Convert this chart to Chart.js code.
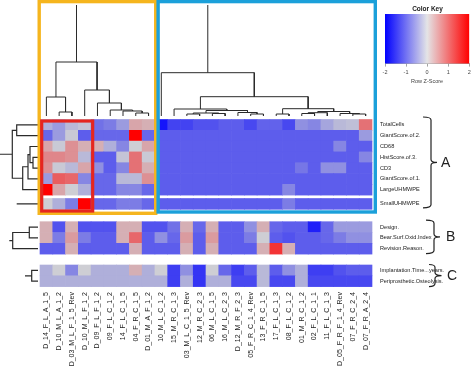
<!DOCTYPE html>
<html>
<head>
<meta charset="utf-8">
<script src="https://cdn.jsdelivr.net/npm/chart.js@4.4.1/dist/chart.umd.min.js"></script>
<style>
  html, body { margin: 0; padding: 0; background: #fff; }
  #wrap { position: relative; width: 474px; height: 373px; overflow: hidden; }
  #heat { position: absolute; left: 0; top: 0; }
  #key { position: absolute; left: 376px; top: 0; }
</style>
</head>
<body>
<div id="wrap">
  <canvas id="heat" width="474" height="373"></canvas>
  <canvas id="key" width="98" height="84"></canvas>
</div>
<script>
// Column (sample) labels, left to right
const colLabels = [
  'D_14_F_L_A_1_5', 'D_10_M_L_A_1_2', 'D_03_M_L_F_1_5_Rev', 'D_10_M_L_F_1_2', 'D_09_F_L_F_1_2',
  '09_F_L_C_1_2', '14_F_L_C_1_5', '04_F_R_C_1_5', 'D_01_M_A_F_1_2', '10_M_L_C_1_2',
  '15_M_R_C_1_3', '03_M_L_C_1_5_Rev', '12_M_R_C_2_3', '06_M_L_C_1_5', '16_M_L_C_2_3',
  'D_12_M_R_F_2_3', '05_F_R_C_1_4_Rev', '13_F_R_C_1_5', '17_F_L_C_1_3', '08_F_L_C_1_2',
  '01_M_R_C_1_2', '02_F_L_C_1_1', '11_F_L_C_1_3', 'D_05_F_R_F_1_4_Rev', '07_F_R_C_2_4',
  'D_07_F_R_A_2_4'
];

const rowLabelsA = ['TotalCells', 'GiantScore.of.2.', 'CD68', 'HistScore.of.3.', 'CD3',
  'GiantScore.of.1.', 'LargeUHMWPE', 'SmallUHMWPE'];
const rowLabelsB = ['Design.', 'Bear.Surf.Oxid.Index', 'Revision.Reason.'];
const rowLabelsC = ['Implantation.Time...years.', 'Periprosthetic.Osteolysis.'];

// Row z-scores (first 9 columns | last 17 columns)
const zA = [
  [-0.3, -0.5, -0.2, -0.1, -0.9, -0.8, -0.5, 0.4, 0.3,
   -1.8, -1.35, -1.35, -1.2, -1.2, -1.1, -1.1, -1.3, -1.05, -1.05, -1.3, -0.6, -0.7, -0.4, -0.2, -0.15, 0.9],
  [-1.0, -0.5, -0.05, -1.1, -1.0, -1.0, -1.0, 2.0, -1.0,
   -1.1, -1.1, -1.1, -1.1, -1.1, -1.1, -1.1, -1.1, -1.1, -1.1, -1.1, -1.1, -1.1, -1.1, -1.1, -1.1, -0.5],
  [0.4, -0.05, 0.6, 0.3, 0.3, -0.3, -0.7, 0.0, 0.4,
   -1.1, -1.1, -1.1, -1.1, -1.1, -1.1, -1.1, -1.1, -1.1, -1.1, -1.1, -1.1, -1.1, -1.1, -0.7, -1.1, -1.1],
  [0.7, 0.7, 0.6, -0.2, -1.1, -1.1, -0.1, 0.9, -0.05,
   -1.1, -1.1, -1.1, -1.1, -1.1, -1.1, -1.1, -1.1, -1.1, -1.1, -1.1, -1.1, -1.1, -1.1, -1.1, -1.1, -0.7],
  [0.6, -0.05, -0.2, 0.4, -0.6, -1.1, -0.7, 0.9, 0.3,
   -1.1, -1.1, -1.1, -1.1, -1.1, -1.1, -1.1, -1.1, -1.1, -1.1, -1.1, -0.85, -1.1, -0.6, -0.6, -1.1, -1.1],
  [-0.5, 1.1, 1.0, -0.7, -1.0, -1.0, -0.2, -0.2, 0.6,
   -1.1, -1.1, -1.1, -1.1, -1.1, -1.1, -1.1, -1.1, -1.1, -1.1, -1.1, -1.1, -1.1, -1.1, -1.1, -1.1, -1.1],
  [2.0, 0.4, 0.0, -0.3, -1.0, -1.0, -0.7, -0.7, -1.0,
   -1.1, -1.1, -1.1, -1.1, -1.1, -1.1, -1.1, -1.1, -1.1, -1.1, -0.7, -1.1, -1.1, -1.1, -1.1, -1.1, -1.1],
  [0.0, -0.3, -0.8, 2.0, -1.0, -1.0, -0.8, -0.8, -1.0,
   -1.1, -1.1, -1.1, -1.1, -1.1, -1.1, -1.1, -1.1, -1.1, -1.1, -0.8, -1.1, -1.1, -1.1, -1.1, -1.1, -1.1]
];
const zB = [
  [0.3, -1.2, 0.3, -1.2, -1.2, -1.2, 0.3, 0.3, -1.2,
   -1.2, -0.9, 0.3, -1.0, 0.3, -1.1, -1.1, -0.6, 0.3, -1.0, -1.1, -1.1, -1.7, -1.0, -0.5, -0.5, -0.5],
  [0.3, -0.8, 0.5, -0.8, -1.1, -1.1, 0.3, 1.0, -1.1,
   -0.6, -1.0, 0.5, -1.1, 0.5, -1.1, -1.1, -0.8, 0.0, -1.1, -1.2, -1.1, -1.1, -1.0, -0.8, -0.6, -0.6],
  [-1.1, -1.1, 0.3, -1.1, -1.1, -1.1, -1.1, 0.3, -1.1,
   -1.1, -1.1, 0.3, -1.1, 0.3, -1.1, -1.1, -1.1, 0.3, 1.5, 0.3, -1.1, -1.1, -1.1, -1.1, -1.1, -1.1]
];
const zC = [
  [-0.3, 0.0, -0.7, 0.0, -0.3, -0.3, -0.3, 0.3, -0.3,
   0.0, -1.4, -0.6, -1.5, 0.0, -1.0, -1.4, -1.1, -0.2, -1.1, -0.6, -0.3, -1.4, -1.4, -1.2, -1.1, -1.1],
  [-0.3, -0.3, -0.3, -0.3, -0.3, -0.3, -0.3, -0.3, -0.3,
   -0.3, -1.4, -0.3, -1.5, -0.3, -0.3, -1.3, -1.3, -0.2, -1.3, -1.3, -0.3, -1.3, -1.3, -1.3, -1.3, -1.3]
];

// Dendrograms, hclust style: [left, right, height]; negative = leaf number
const colMerge = [
  [-2, -3, 4], [-1, 1, 19], [-8, -9, 3], [-7, 3, 5], [-6, 4, 6], [-5, 5, 13], [-4, 6, 26], [2, 7, 54],
  [-12, -13, 2], [-14, -15, 2.5], [9, 10, 3], [-17, -18, 2], [-16, 12, 3.5], [11, 13, 5.5], [-11, 14, 7],
  [-19, -20, 2], [-21, -22, 2.5], [17, -23, 3.3], [-25, -26, 2], [-24, 19, 2.5], [18, 20, 4.5],
  [16, 21, 7.3], [15, 22, 19.3], [-10, 23, 43.3]
];
const colStubs = [[8, 111], [24, 111]];
const rowMergeA = [[-1, -2, 21.3], [-4, -5, 5], [-3, 2, 8], [3, -6, 10], [4, -7, 15.3], [1, 5, 25.7]];
const rowStubsA = [[6, 38], [-8, 21.3]];
const rowMergeB = [[-1, -2, 8.7], [1, -3, 25.3]];
const rowStubsB = [[2, 28.7]];
const rowMergeC = [[-1, -2, 6.3]];
const rowStubsC = [[1, 13]];

const keyTicks = [-2, -1, 0, 1, 2];

// ---- layout (canvas pixel units on both scales) ----
const FONT = '"Liberation Sans", Arial, sans-serif';
const X0 = 40, COLW = 332 / colLabels.length;
const colX = i => X0 + (i + 0.5) * COLW;
const blocks = [
  { labels: rowLabelsA, z: zA, top: 119.5, h: 10.8, gapAt: 7, gap: 3.4 },
  { labels: rowLabelsB, z: zB, top: 221.7, h: 10.8 },
  { labels: rowLabelsC, z: zC, top: 265, h: 10.8 }
];
function rowSpan(b, r) {
  let t = b.top + r * b.h;
  if (b.gapAt !== undefined && r >= b.gapAt) t += b.gap;
  return [t, t + b.h];
}
const rowMid = (b, r) => { const s = rowSpan(b, r); return (s[0] + s[1]) / 2; };

const LOW = [0, 0, 255], MID = [206, 206, 212], HIGH = [255, 0, 0];
function zColor(v) {
  const t = Math.max(-1, Math.min(1, v / 2));
  const to = t < 0 ? LOW : HIGH, f = Math.abs(t);
  return 'rgb(' + MID.map((c, i) => Math.round(c + (to[i] - c) * f)).join(',') + ')';
}

// heatmap cells as floating bars
const cellData = [], cellColors = [];
blocks.forEach(b => b.z.forEach((row, r) => {
  const [t, bt] = rowSpan(b, r);
  row.forEach((v, c) => {
    cellData.push({ x: colX(c), y: [t, bt] });
    cellColors.push(zColor(v));
  });
}));

// dendrogram polylines
function dendro(merge, stubs, leafPos, base, vertical) {
  const pos = [], ht = [];
  const P = k => k < 0 ? leafPos(-k - 1) : pos[k - 1];
  const H = k => k < 0 ? 0 : ht[k - 1];
  merge.forEach(([a, b, h], i) => { pos[i] = (P(a) + P(b)) / 2; ht[i] = h; });
  const pt = (p, h) => vertical ? { x: p, y: base - h } : { x: base - h, y: p };
  const gap = { x: null, y: null };
  const pts = [];
  merge.forEach(([a, b, h]) => {
    pts.push(pt(P(a), H(a)), pt(P(a), h), pt(P(b), h), pt(P(b), H(b)), gap);
  });
  stubs.forEach(([k, h]) => pts.push(pt(P(k), H(k)), pt(P(k), h), gap));
  return pts;
}
const lineSet = (data, w) => ({
  type: 'line', data, borderColor: '#2b2b2b', borderWidth: w,
  pointRadius: 0, tension: 0, spanGaps: false, fill: false
});

const boxes = [
  { c0: 0, c1: 9, dx0: -0.8, dx1: 0.8, y0: 1.6, y1: 213.3, color: '#F5B51E', w: 3.4 },
  { c0: 9, c1: 26, dx0: 3.2, dx1: 3.3, y0: 1.6, y1: 212, color: '#1BA0DA', w: 3.4 },
  { c0: 0, c1: 4, dx0: 1.7, dx1: 1.6, y0: 121, y1: 211, color: '#E5261F', w: 3.2 }
];
const braces = [
  { text: 'A', block: 0, xl: 423, xv: 431, xt: 437, lx: 441, dt: -2.5, db: -1.5 },
  { text: 'B', block: 1, xl: 426, xv: 434, xt: 440, lx: 446, dt: -1.5, db: -0.5 },
  { text: 'C', block: 2, xl: 429, xv: 435, xt: 441.5, lx: 447, dt: -0.5, db: 0 }
];

function drawBrace(ctx, xl, xv, xt, t, b) {
  const m = (t + b) / 2, r = 3;
  ctx.beginPath();
  ctx.moveTo(xl, t);
  ctx.quadraticCurveTo(xv, t, xv, t + r);
  ctx.lineTo(xv, m - r);
  ctx.quadraticCurveTo(xv, m, xt, m);
  ctx.quadraticCurveTo(xv, m, xv, m + r);
  ctx.lineTo(xv, b - r);
  ctx.quadraticCurveTo(xv, b, xl, b);
  ctx.stroke();
}

const overlay = {
  id: 'overlay',
  afterDatasetsDraw(chart) {
    const { ctx, scales: { x, y } } = chart;
    ctx.save();
    boxes.forEach(b => {
      const l = x.getPixelForValue(X0 + b.c0 * COLW + b.dx0);
      const r = x.getPixelForValue(X0 + b.c1 * COLW + b.dx1);
      const t = y.getPixelForValue(b.y0), bt = y.getPixelForValue(b.y1);
      ctx.strokeStyle = b.color;
      ctx.lineWidth = b.w;
      ctx.strokeRect(l, t, r - l, bt - t);
    });

    // row labels
    ctx.fillStyle = '#222';
    ctx.font = '5.6px ' + FONT;
    ctx.textAlign = 'left';
    ctx.textBaseline = 'middle';
    blocks.forEach(b => b.labels.forEach((lab, r) => {
      ctx.fillText(lab, x.getPixelForValue(380), y.getPixelForValue(rowMid(b, r)));
    }));

    // column labels
    ctx.font = '7px ' + FONT;
    ctx.textAlign = 'right';
    colLabels.forEach((lab, i) => {
      ctx.save();
      ctx.translate(x.getPixelForValue(colX(i)), y.getPixelForValue(292));
      ctx.rotate(-Math.PI / 2);
      ctx.fillText(lab, 0, 0);
      ctx.restore();
    });

    // group braces
    ctx.strokeStyle = '#222';
    ctx.lineWidth = 1.2;
    ctx.font = '14px ' + FONT;
    ctx.textAlign = 'left';
    braces.forEach(br => {
      const b = blocks[br.block];
      const t = rowSpan(b, 0)[0] + br.dt, bt = rowSpan(b, b.z.length - 1)[1] + br.db;
      drawBrace(ctx, x.getPixelForValue(br.xl), x.getPixelForValue(br.xv), x.getPixelForValue(br.xt),
        y.getPixelForValue(t), y.getPixelForValue(bt));
      ctx.fillText(br.text, x.getPixelForValue(br.lx), y.getPixelForValue((t + bt) / 2 + 0.5));
    });
    ctx.restore();
  }
};

Chart.defaults.font.family = FONT;
Chart.defaults.color = '#333';

new Chart(document.getElementById('heat'), {
  type: 'bar',
  data: {
    datasets: [
      { data: cellData, backgroundColor: cellColors, borderWidth: 0, barPercentage: 1, categoryPercentage: 1 },
      lineSet(dendro(colMerge, colStubs, colX, 116, true), 1),
      lineSet(dendro(rowMergeA, rowStubsA, r => rowMid(blocks[0], r), 38, false), 1.2),
      lineSet(dendro(rowMergeB, rowStubsB, r => rowMid(blocks[1], r), 38, false), 1.2),
      lineSet(dendro(rowMergeC, rowStubsC, r => rowMid(blocks[2], r), 38, false), 1.2)
    ]
  },
  options: {
    responsive: false,
    animation: false,
    events: [],
    layout: { padding: 0 },
    plugins: { legend: { display: false }, tooltip: { enabled: false } },
    scales: {
      x: { type: 'linear', min: 0, max: 474, offset: false, display: false, ticks: { stepSize: 50 } },
      y: { type: 'linear', min: 0, max: 373, reverse: true, display: false }
    }
  },
  plugins: [overlay]
});

// Color key
new Chart(document.getElementById('key'), {
  type: 'bar',
  data: {
    labels: [''],
    datasets: [{
      data: [[keyTicks[0], keyTicks[keyTicks.length - 1]]],
      backgroundColor: (c) => {
        const area = c.chart.chartArea;
        if (!area) return zColor(0);
        const g = c.chart.ctx.createLinearGradient(area.left, 0, area.right, 0);
        g.addColorStop(0, zColor(keyTicks[0]));
        g.addColorStop(0.5, 'rgb(228,228,230)');
        g.addColorStop(1, zColor(keyTicks[keyTicks.length - 1]));
        return g;
      },
      borderWidth: 0, barPercentage: 1, categoryPercentage: 1
    }]
  },
  options: {
    indexAxis: 'y',
    responsive: false,
    animation: false,
    events: [],
    layout: { padding: { left: 9, right: 4, top: 0, bottom: 0 } },
    plugins: {
      legend: { display: false },
      tooltip: { enabled: false },
      title: { display: true, text: 'Color Key', color: '#222',
        font: { size: 6.5, weight: 'bold', lineHeight: 1.2 }, padding: { top: 5.8, bottom: 0.4 } }
    },
    scales: {
      x: {
        type: 'linear', min: keyTicks[0], max: keyTicks[keyTicks.length - 1],
        afterBuildTicks: s => { s.ticks = keyTicks.map(v => ({ value: v })); },
        ticks: { font: { size: 5.5, lineHeight: 1 }, color: '#444', padding: 3.2 },
        grid: { drawOnChartArea: false, tickLength: 3, color: '#666', lineWidth: 0.6 },
        border: { color: '#666', width: 0.6 },
        title: { display: true, text: 'Row Z-Score', color: '#444',
          font: { size: 5.5, lineHeight: 1 }, padding: { top: 0, bottom: 0 } }
      },
      y: { display: false }
    }
  }
});
</script>
</body>
</html>
